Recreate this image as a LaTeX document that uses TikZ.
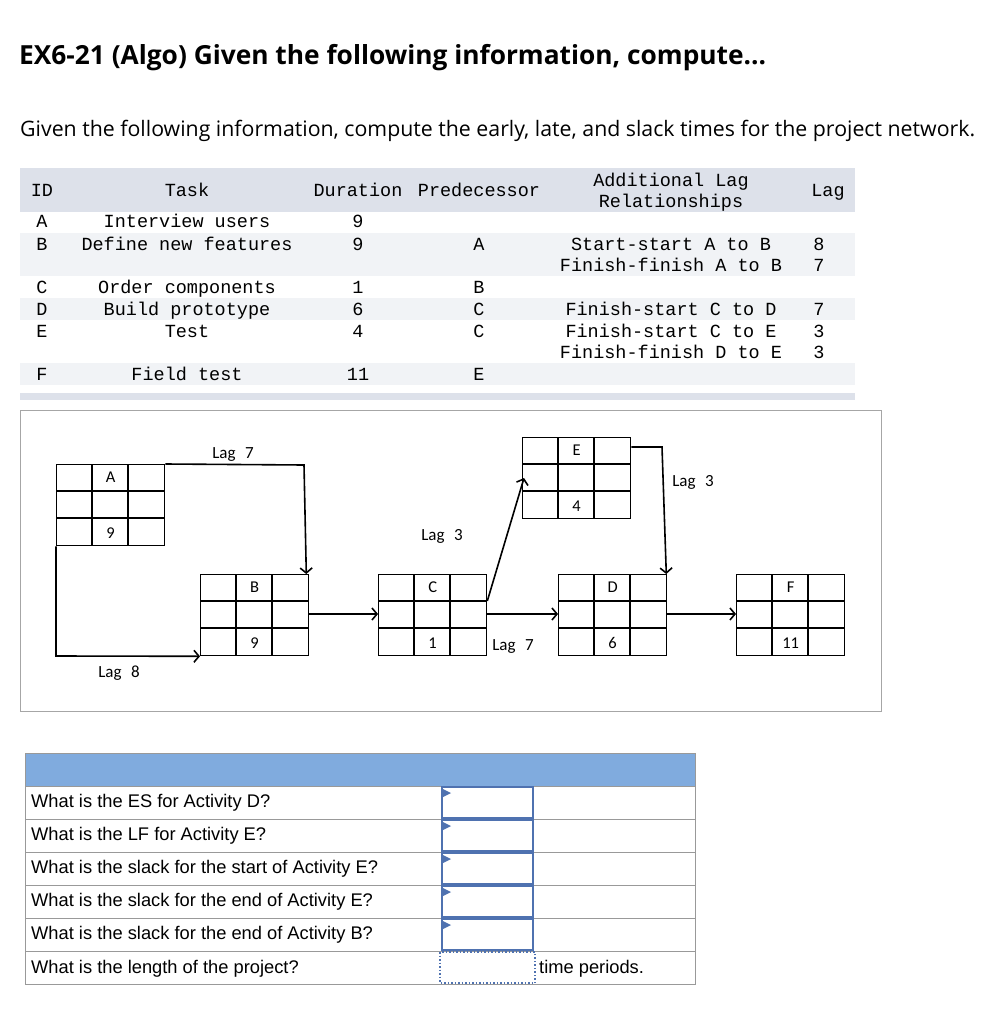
\documentclass[tikz,border=0pt]{standalone}
\usepackage{fontspec}
\setmainfont{Liberation Sans}
\newfontfamily\titlefont{Open Sans}
\newfontfamily\monofont{Liberation Mono}
\newfontfamily\lagfont{Carlito}
\usetikzlibrary{arrows.meta,calc}
\definecolor{hdr}{HTML}{DDE1EA}
\definecolor{rowbg}{HTML}{F1F3F6}
\definecolor{qblue}{HTML}{80ABDE}
\definecolor{inblue}{HTML}{4F72B0}
\tikzset{
  mono/.style={font=\monofont\fontsize{18.5}{20}\selectfont, inner sep=0, anchor=base},
  lag/.style={font=\lagfont\fontsize{17}{19}\selectfont, inner sep=0},
  cellt/.style={font=\lagfont\fontsize{16.5}{18}\selectfont, inner sep=0},
  arr/.style={line width=1.6pt, -{Straight Barb[length=5pt,width=12pt]}},
  qtext/.style={font=\fontsize{18.3}{20}\selectfont, inner sep=0, anchor=west},
  inbox/.style={draw=inblue, line width=1.3pt},
}
\newcommand{\pnode}[5]{% name, left x, top y, label, duration
  \node[draw, line width=1.3pt, minimum width=108pt, minimum height=81pt, inner sep=0, anchor=north west] (#1) at (#2,#3) {};
  \draw[line width=1.1pt] ($(#1.north west)+(36,0)$) -- ($(#1.south west)+(36,0)$)
               ($(#1.north west)+(72,0)$) -- ($(#1.south west)+(72,0)$)
               ($(#1.north west)+(0,27)$) -- ($(#1.north east)+(0,27)$)
               ($(#1.north west)+(0,54)$) -- ($(#1.north east)+(0,54)$);
  \node[cellt] (#1-l) at ($(#1.north)+(0,13.5)$) {#4};
  \node[cellt] (#1-d) at ($(#1.south)+(0,-13.5)$) {#5};
}
\begin{document}
\begin{tikzpicture}[x=1pt,y=-1pt]
\useasboundingbox (0,0) rectangle (1004,1024);
\fill[white] (0,0) rectangle (1004,1024);
\node[font=\titlefont\bfseries\fontsize{26.3}{28}\selectfont, anchor=west, inner sep=0] (title) at (19,58) {EX6-21 (Algo) Given the following information, compute...};
\node[font=\titlefont\fontsize{21.3}{24}\selectfont, anchor=west, inner sep=0] (sub) at (20,131) {Given the following information, compute the early, late, and slack times for the project network.};
% top table
\fill[hdr] (20,168) rectangle (855,212);
\fill[rowbg] (20,233) rectangle (855,276);
\fill[rowbg] (20,298) rectangle (855,320);
\fill[rowbg] (20,363) rectangle (855,385);
\fill[hdr] (20,393) rectangle (855,400);
\node[mono] (h1) at (42,197) {ID};
\node[mono] (h2) at (187,197) {Task};
\node[mono] (h3) at (358,197) {Duration};
\node[mono] (h4) at (479,197) {Predecessor};
\node[mono] (h5) at (671,187) {Additional Lag};
\node[mono] (h5b) at (671,208) {Relationships};
\node[mono] (h6) at (828,197) {Lag};
\foreach \y/\id/\task/\dur/\pre [count=\i] in {228/A/Interview users/9/, 250/B/Define new features/9/A, 293/C/Order components/1/B, 315/D/Build prototype/6/C, 337/E/Test/4/C, 380/F/Field test/11/E}{
  \node[mono] (id\i) at (42,\y) {\id};
  \node[mono] (tk\i) at (187,\y) {\task};
  \node[mono] (du\i) at (358,\y) {\dur};
  \node[mono] (pr\i) at (479,\y) {\pre};
}
\foreach \y/\rel/\lg [count=\i] in {250/Start-start A to B/8, 271/Finish-finish A to B/7, 315/Finish-start C to D/7, 337/Finish-start C to E/3, 358/Finish-finish D to E/3}{
  \node[mono] (rl\i) at (671,\y) {\rel};
  \node[mono] (lg\i) at (819,\y) {\lg};
}
% network
\draw[gray!70, line width=1pt] (20,410) rectangle (881,711);
\pnode{A}{56}{464}{A}{9}
\pnode{B}{200}{574}{B}{9}
\pnode{C}{378}{574}{C}{1}
\pnode{E}{522}{437}{E}{4}
\pnode{D}{558}{574}{D}{6}
\pnode{F}{736}{574}{F}{11}
\draw[arr] (A.north east) -- (304,465) -- ($(B.north east)+(-3,0)$);
\draw[arr] (A.south west) -- (56,656) -- (B.south west);
\draw[arr] ($(B.north east)+(0,40)$) -- ($(C.north west)+(0,40)$);
\draw[arr] ($(C.north east)+(0,27)$) -- ($(E.north west)+(2,41)$);
\draw[arr] ($(C.north east)+(0,40)$) -- ($(D.north west)+(0,40)$);
\draw[arr] ($(E.north east)+(0,10)$) -- (662,447) -- ($(D.north east)+(-1,0)$);
\draw[arr] ($(D.north east)+(0,40)$) -- ($(F.north west)+(0,40)$);
\node[lag] (l1) at (233,455) {Lag\,\, 7};
\node[lag] (l2) at (119,673) {Lag\,\, 8};
\node[lag] (l3) at (442,536) {Lag\,\, 3};
\node[lag] (l4) at (513,646) {Lag\,\, 7};
\node[lag] (l5) at (693,482) {Lag\,\, 3};
% questions
\fill[qblue] (25,753) rectangle (695,786);
\draw[gray!80, line width=1pt] (25,753) rectangle (695,984);
\foreach \y in {786,819,852,885,918,951}{\draw[gray!80, line width=1pt] (25,\y) -- (695,\y);}
\foreach \y/\q [count=\i] in {803/What is the ES for Activity D?, 836/What is the LF for Activity E?, 869/What is the slack for the start of Activity E?, 902/What is the slack for the end of Activity E?, 935/What is the slack for the end of Activity B?, 969/What is the length of the project?}{
  \node[qtext] (q\i) at (31,\y) {\q};
}
\foreach \y [count=\i] in {787,820,853,886,919}{
  \draw[inbox] (442,\y) rectangle (533,\y+31);
  \fill[inblue] (443,\y+2) -- (451,\y+6) -- (443,\y+10) -- cycle;
}
\draw[inblue, line width=1.5pt, dotted] (440,952) rectangle (535,983);
\node[qtext] (tp) at (539,969) {time periods.};
\end{tikzpicture}
\end{document}
